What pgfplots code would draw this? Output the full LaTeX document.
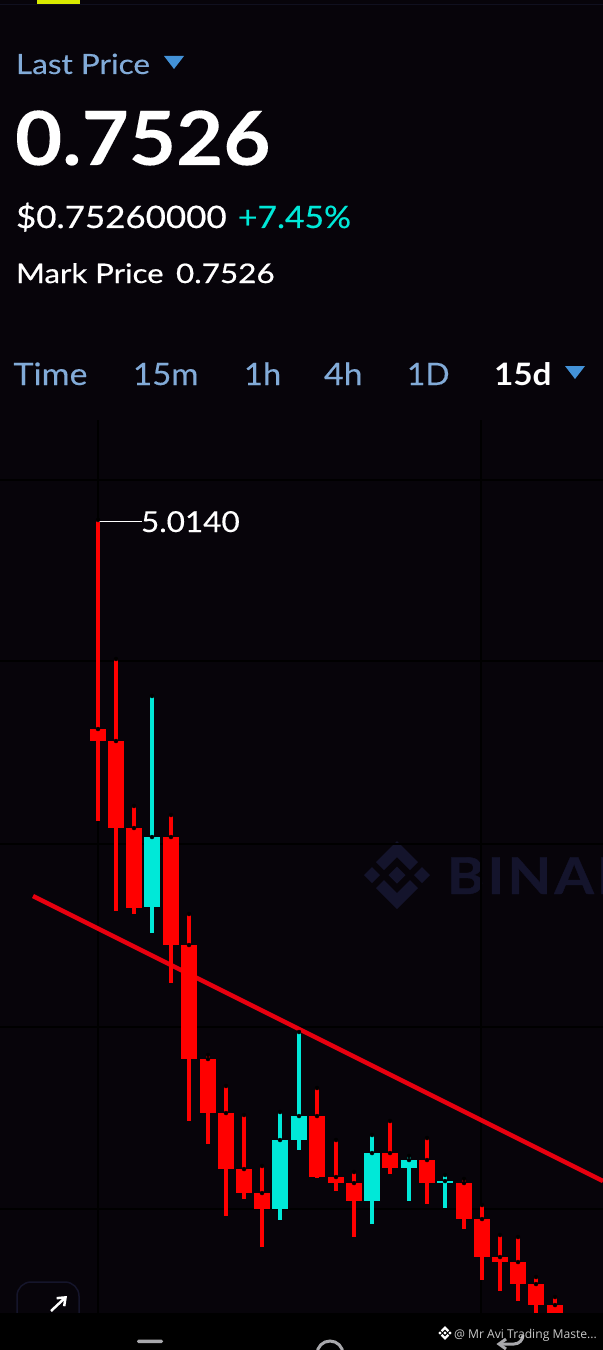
\documentclass[border=0pt]{standalone}
\usepackage{fontspec}
\setmainfont{Lato}
\newfontfamily\navfont{Open Sans}
\usepackage{pgfplots}
\usepackage{pgfplotstable}
\usetikzlibrary{arrows.meta}
\pgfplotsset{compat=1.18}

\definecolor{bg}{HTML}{07040A}
\definecolor{upc}{HTML}{00E8D8}
\definecolor{downc}{HTML}{FF0000}
\definecolor{trend}{HTML}{E8000F}
\definecolor{linkblue}{HTML}{82ABD8}
\definecolor{tri}{HTML}{4392D8}
\definecolor{wmark}{HTML}{14142C}
\definecolor{strip}{HTML}{D8EA00}
\definecolor{stripline}{HTML}{10101F}
\definecolor{btn}{HTML}{15152B}
\definecolor{navgrey}{HTML}{A8A8AC}
\definecolor{credit}{HTML}{C8C8C8}

% x high top bottom low, in picture pixels
\pgfplotstableread{
x   high top  bot  low
98  520  729  741  821
116 659  741  828  911
134 806  828  908  914
171 815  837  945  983
189 914  945  1059 1121
208 1055 1059 1113 1144
226 1086 1113 1169 1216
244 1115 1169 1193 1199
262 1166 1193 1209 1247
317 1088 1116 1177 1178
336 1140 1177 1183 1191
354 1172 1183 1201 1237
390 1121 1153 1168 1174
427 1138 1160 1183 1204
464 1179 1183 1219 1229
482 1205 1219 1257 1280
500 1235 1257 1262 1291
518 1237 1262 1284 1301
536 1277 1284 1305 1325
555 1297 1305 1325 1335
}\redcandles
\pgfplotstableread{
x   high top  bot  low
152 696  837  907  933
280 1112 1140 1209 1220
299 1032 1116 1140 1150
372 1135 1153 1201 1224
409 1156 1160 1168 1201
445 1175 1181 1183 1208
}\cyancandles

\newcommand{\candles}[2]{%
  \addplot[only marks, mark=none, error bars/.cd, y dir=plus, y explicit, error mark=none,
    error bar style={line width=3.4bp, color=#2}]
    table[x=x, y=high, y error plus expr=\thisrow{low}-\thisrow{high}] {#1};
  \addplot[only marks, mark=none, error bars/.cd, y dir=plus, y explicit, error mark=none,
    error bar style={line width=16bp, color=#2}]
    table[x=x, y=top, y error plus expr=\thisrow{bot}-\thisrow{top}] {#1};
}
\newcommand{\logo}[3]{% centre x, centre y, scale
  \begin{scope}[shift={(#1,#2)}, x=#3*1bp, y=#3*-1bp]
    \fill (0,-8.5) -- (8.5,0) -- (0,8.5) -- (-8.5,0) -- cycle;
    \fill (-25,-8) -- (-17,0) -- (-25,8) -- (-33,0) -- cycle;
    \fill (25,-8) -- (33,0) -- (25,8) -- (17,0) -- cycle;
    \fill (0,-34) -- (21,-13) -- (13,-5) -- (0,-18) -- (-13,-5) -- (-21,-13) -- cycle;
    \fill (0,34) -- (21,13) -- (13,5) -- (0,18) -- (-13,5) -- (-21,13) -- cycle;
  \end{scope}}

\tikzset{txt/.style={anchor=base west, inner sep=0pt, outer sep=0pt}}
% size, horizontal stretch, weight: the app's face is wider than Lato
\newcommand{\fnt}[3]{\fontsize{#1}{#1}\selectfont\addfontfeature{FakeStretch=#2,FakeBold=#3}}

\begin{document}
\begin{tikzpicture}[x=1bp, y=-1bp]
\useasboundingbox (0,0) rectangle (603,1350);
\fill[bg] (0,0) rectangle (603,1350);

% status strip
\fill[strip] (37,0) rectangle (80,4);
\fill[stripline] (0,4) rectangle (603,5);

% header
\node[txt, text=linkblue, font=\fnt{28}{1.13}{0.2}] at (16,74) {Last Price};
\fill[tri] (164,56) -- (184,56) -- (174,69) -- cycle;
\node[txt, text=white, font=\bfseries\fnt{75}{1.09}{0.1}] at (15,165) {0.7526};
\node[txt, text=white, font=\fnt{31}{1.13}{0.6}] at (16,228) {\$0.75260000};
\node[txt, text=upc, font=\fnt{31}{1.09}{0.4}] at (238,228) {+7.45\%};
\node[txt, text=white, font=\fnt{27}{1.16}{0.6}] at (16,283) {Mark Price};
\node[txt, text=white, font=\fnt{27}{1.17}{0.6}] at (176,283) {0.7526};

% interval tabs
\foreach \px/\lab/\st in {13.5/Time/1.1,133/15m/1.07,244/1h/1.06,324/4h/1.1,407/1D/1.03}
  \node[txt, text=linkblue, font=\fnt{31}{\st}{0.2}] at (\px,385) {\lab};
\node[txt, text=white, font=\bfseries\fnt{31}{1.08}{0}] at (494,385) {15d};
\fill[tri] (565,366) -- (585,366) -- (575,379) -- cycle;

% watermark
\begin{scope}
  \clip (0,420) rectangle (603,1313);
  \begin{scope}[fill=wmark]\logo{397}{875}{1}\end{scope}
  \node[txt, text=wmark, font=\bfseries\fnt{51}{1.12}{0.8}\addfontfeature{LetterSpace=6}] at (447,894) {BINANCE};
\end{scope}

\begin{axis}[
  at={(0,1313)}, anchor=south west,
  width=603bp, height=893bp, scale only axis,
  xmin=0, xmax=603, ymin=420, ymax=1313, y dir=reverse,
  axis line style={draw=none},
  xtick={98,481}, ytick={480,661,844,1027,1209},
  xticklabels={}, yticklabels={},
  major tick length=0pt,
  grid=major, grid style={black, line width=2bp},
]
\addplot[color=trend, line width=4.5bp] coordinates {(33,896) (603,1181)};
\candles{\redcandles}{downc}
\candles{\cyancandles}{upc}
\addplot[color=white, line width=1bp] coordinates {(97,521) (142,521)};
\end{axis}

\node[txt, text=white, font=\fnt{29}{1.09}{0.2}] at (141,532) {5.0140};

% expand button
\draw[btn, line width=1.5bp, rounded corners=14bp] (17,1320) -- (17,1282) -- (79,1282) -- (79,1320);
\draw[white, line width=2.5bp, -{Straight Barb[length=7bp,width=11bp]}] (51,1311) -- (67,1296);

% navigation bar
\fill[black] (0,1313) rectangle (603,1350);
\fill[navgrey, rounded corners=1.5bp] (137,1339.5) rectangle (163,1343);
\draw[navgrey, line width=3bp] (330,1354) circle (13);
\draw[navgrey, line width=3bp] (499,1344) -- (514,1344) arc (90:0:9);
\draw[navgrey, line width=3bp] (506,1339) -- (499,1344) -- (506,1349);
\begin{scope}[fill=white]\logo{445}{1333}{0.2}\end{scope}
\node[txt, text=credit, font=\navfont\fontsize{12.2}{14}\selectfont] at (454,1338) {@ Mr Avi Trading Maste...};
\end{tikzpicture}
\end{document}
